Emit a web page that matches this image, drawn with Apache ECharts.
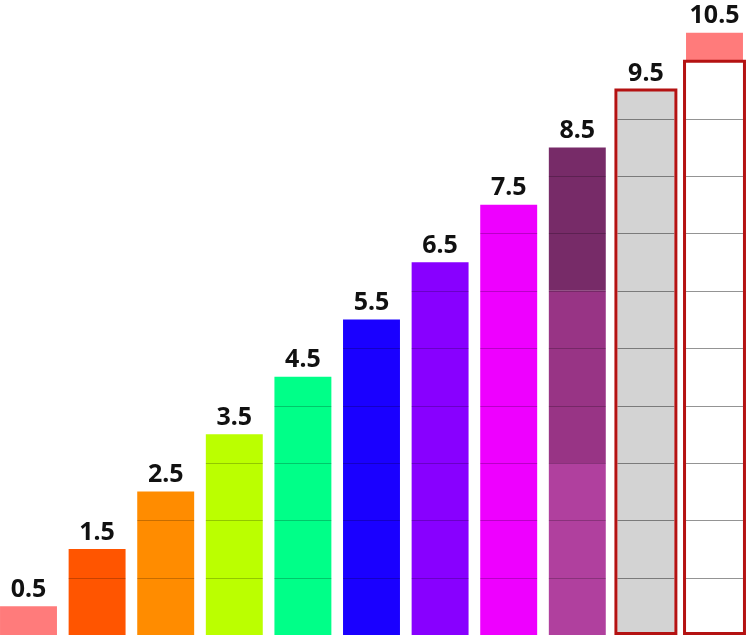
<!DOCTYPE html>
<html>
<head>
<meta charset="utf-8">
<script src="https://cdn.jsdelivr.net/npm/echarts@6/dist/echarts.min.js"></script>
<style>
  html, body { margin: 0; padding: 0; background: #ffffff; }
  #chart { width: 755px; height: 635px; }
</style>
</head>
<body>
<div id="chart"></div>
<script>
// ---- data ----
const categories = ['0.5', '1.5', '2.5', '3.5', '4.5', '5.5', '6.5', '7.5', '8.5', '9.5', '10.5'];
const values = [0.5, 1.5, 2.5, 3.5, 4.5, 5.5, 6.5, 7.5, 8.5, 9.5, 10.5];
// bar 9 is shaded in bands ending at these values
const bar9BandEnds = [3, 6, 8.5];
// bar 11: outlined part ends here, a cap sits above it
const bar11OutlineEnd = 10;

// ---- styles ----
const fills = ['#FF7B7B', '#FF5500', '#FF8C00', '#BBFF00', '#00FF88', '#1A00FF',
               '#8800FF', '#EE00FF', '#B0409E', '#D3D3D3', '#FFFFFF'];
const bar9Fills = ['#B0409E', '#983485', '#772B68'];
const capFill = '#FF7B7B';
const outlineColor = '#B41212';
const outlined = [9, 10];

const chart = echarts.init(document.getElementById('chart'), null, { renderer: 'canvas' });

function renderItem(params, api) {
  const i = params.dataIndex;
  const v = api.value(1);
  const base = api.coord([i, 0]);
  const cx = base[0];
  const y0 = base[1];
  const bw = api.size([1, 0])[0] * 0.83;
  const x0 = cx - bw / 2;
  const yOf = (val) => api.coord([i, val])[1];
  const children = [];

  let segs = [];
  if (i === 8) {
    let from = 0;
    bar9BandEnds.forEach((end, k) => { segs.push([from, end, bar9Fills[k]]); from = end; });
  } else if (i === 10) {
    segs.push([0, bar11OutlineEnd, fills[i]]);
    segs.push([bar11OutlineEnd, v, capFill]);
  } else {
    segs.push([0, v, fills[i]]);
  }
  segs.forEach(s => {
    const yt = yOf(s[1]);
    const yb = yOf(s[0]);
    children.push({
      type: 'rect',
      shape: { x: x0, y: yt, width: bw, height: yb - yt },
      style: { fill: s[2] }
    });
  });

  const isOutlined = outlined.indexOf(i) >= 0;
  const limit = i === 10 ? bar11OutlineEnd : v;
  for (let k = 1; k < limit; k++) {
    const y = Math.round(yOf(k)) + 0.5;
    children.push({
      type: 'line',
      shape: { x1: x0, y1: y, x2: x0 + bw, y2: y },
      style: { stroke: isOutlined ? 'rgba(0,0,0,0.42)' : 'rgba(0,0,0,0.22)', lineWidth: 1 }
    });
  }

  if (isOutlined) {
    const top = i === 10 ? bar11OutlineEnd : v;
    const yt = yOf(top);
    children.push({
      type: 'rect',
      shape: { x: x0 - 1.5, y: yt, width: bw + 3, height: y0 - 1.5 - yt },
      style: { fill: null, stroke: outlineColor, lineWidth: 3 }
    });
  }

  children.push({
    type: 'text',
    style: {
      x: cx,
      y: yOf(v) - 4,
      text: categories[i],
      fill: '#111111',
      font: 'bold 25px "Noto Sans"',
      align: 'center',
      verticalAlign: 'bottom'
    }
  });

  return { type: 'group', children: children };
}

chart.setOption({
  animation: false,
  backgroundColor: '#ffffff',
  grid: { left: 28.5, right: 40.5, top: 4, bottom: 0, containLabel: false },
  xAxis: { type: 'category', data: categories, show: false, boundaryGap: false },
  yAxis: { type: 'value', min: 0, max: 11, show: false },
  series: [{
    type: 'custom',
    renderItem: renderItem,
    clip: false,
    data: values.map((v, i) => [i, v])
  }]
});
</script>
</body>
</html>
